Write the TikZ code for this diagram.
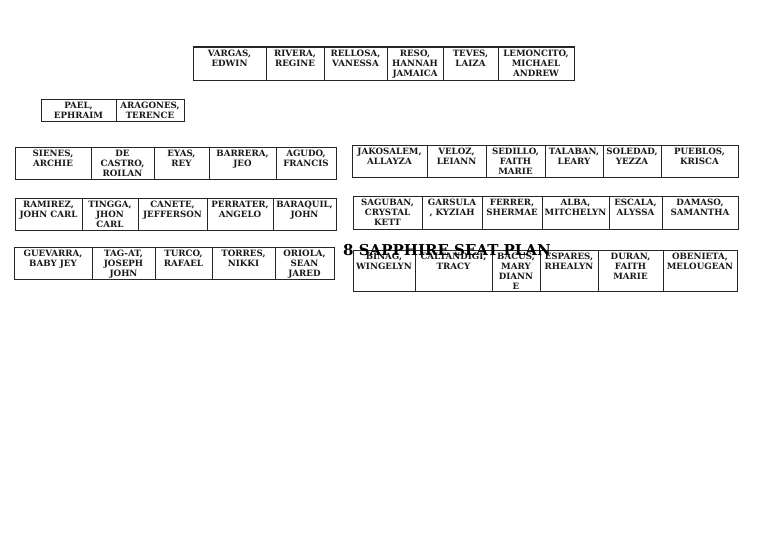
\documentclass[tikz,border=0pt]{standalone}
\usepackage{fontspec}
\setmainfont{DejaVu Serif}
\usetikzlibrary{fit}
\tikzset{
  cellbox/.style={draw=black!85, line width=0.6pt, inner sep=0pt, outer sep=0pt, anchor=north west},
  celltext/.style={font=\bfseries\fontsize{8.7}{10}\selectfont, align=center, inner sep=0pt, anchor=north, text=black!90},
  rowframe/.style={draw=black!85, line width=1pt, inner sep=0pt, outer sep=0pt},
  titletext/.style={font=\bfseries\fontsize{15}{17}\selectfont, inner sep=0pt, anchor=base}
}
\newcommand\seat[6]{%
  \node[cellbox, minimum width={(#3-#2)*1pt}, minimum height={(#5-#4)*1pt}] (#1) at (#2,#4) {};
  \node[celltext] (#1txt) at ([yshift=-3.2pt]#1.north) {#6};
}
\begin{document}
\begin{tikzpicture}[x=1pt,y=-1pt]
\useasboundingbox[fill=white] (0,0) rectangle (768,543);
% top row
\foreach \a/\b/\t [count=\i] in {193/266/{VARGAS,\\EDWIN}, 266/324/{RIVERA,\\REGINE}, 324/387/{RELLOSA,\\VANESSA}, 387/443/{RESO,\\HANNAH\\JAMAICA}, 443/498/{TEVES,\\LAIZA}, 498/574/{LEMONCITO,\\MICHAEL\\ANDREW}}
  {\seat{t\i}{\a}{\b}{47}{80}{\t}}
\node[rowframe, fit=(t1)(t6)] (trow) {};
% pael row
\foreach \a/\b/\t [count=\i] in {41/116/{PAEL,\\EPHRAIM}, 116/184/{ARAGONES,\\TERENCE}}
  {\seat{p\i}{\a}{\b}{99}{121}{\t}}
\node[rowframe, fit=(p1)(p2)] (prow) {};
% left rows
\foreach \a/\b/\t [count=\i] in {15/91/{SIENES,\\ARCHIE}, 91/154/{DE\\CASTRO,\\ROILAN}, 154/209/{EYAS,\\REY}, 209/276/{BARRERA,\\JEO}, 276/336/{AGUDO,\\FRANCIS}}
  {\seat{a\i}{\a}{\b}{147}{179}{\t}}
\node[rowframe, fit=(a1)(a5)] (arow) {};
\foreach \a/\b/\t [count=\i] in {15/82/{RAMIREZ,\\JOHN CARL}, 82/138/{TINGGA,\\JHON\\CARL}, 138/207/{CANETE,\\JEFFERSON}, 207/273/{PERRATER,\\ANGELO}, 273/336/{BARAQUIL,\\JOHN}}
  {\seat{b\i}{\a}{\b}{198}{230}{\t}}
\node[rowframe, fit=(b1)(b5)] (brow) {};
\foreach \a/\b/\t [count=\i] in {14/92/{GUEVARRA,\\BABY JEY}, 92/155/{TAG-AT,\\JOSEPH\\JOHN}, 155/212/{TURCO,\\RAFAEL}, 212/275/{TORRES,\\NIKKI}, 275/334/{ORIOLA,\\SEAN\\JARED}}
  {\seat{c\i}{\a}{\b}{247}{279}{\t}}
\node[rowframe, fit=(c1)(c5)] (crow) {};
% right rows
\foreach \a/\b/\t [count=\i] in {352/427/{JAKOSALEM,\\ALLAYZA}, 427/486/{VELOZ,\\LEIANN}, 486/545/{SEDILLO,\\FAITH\\MARIE}, 545/603/{TALABAN,\\LEARY}, 603/661/{SOLEDAD,\\YEZZA}, 661/738/{PUEBLOS,\\KRISCA}}
  {\seat{d\i}{\a}{\b}{145}{177}{\t}}
\node[rowframe, fit=(d1)(d6)] (drow) {};
\foreach \a/\b/\t [count=\i] in {353/422/{SAGUBAN,\\CRYSTAL\\KETT}, 422/482/{GARSULA\\, KYZIAH}, 482/542/{FERRER,\\SHERMAE}, 542/609/{ALBA,\\MITCHELYN}, 609/662/{ESCALA,\\ALYSSA}, 662/738/{DAMASO,\\SAMANTHA}}
  {\seat{e\i}{\a}{\b}{196}{229}{\t}}
\node[rowframe, fit=(e1)(e6)] (erow) {};
\foreach \a/\b/\t [count=\i] in {353/415/{BINAG,\\WINGELYN}, 415/492/{CALTANDIGI,\\TRACY}, 492/540/{BACUS,\\MARY\\DIANN\\E}, 540/598/{ESPARES,\\RHEALYN}, 598/663/{DURAN,\\FAITH\\MARIE}, 663/737/{OBENIETA,\\MELOUGEAN}}
  {\seat{f\i}{\a}{\b}{250}{291}{\t}}
\node[rowframe, fit=(f1)(f6)] (frow) {};
% title
\node[titletext] (title) at (447,255) {8 SAPPHIRE SEAT PLAN};
\end{tikzpicture}
\end{document}
